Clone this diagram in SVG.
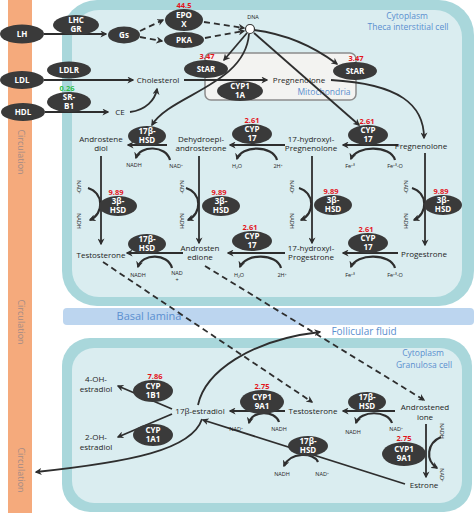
<svg xmlns="http://www.w3.org/2000/svg" width="474" height="513" viewBox="0 0 474 513">
<defs>
<marker id="ah" viewBox="0 0 10 10" refX="8" refY="5" markerWidth="7" markerHeight="7" markerUnits="userSpaceOnUse" orient="auto"><path d="M0,0 L10,5 L0,10 L3,5 z" fill="#2e2e2e"/></marker>
<style>
.e{fill:#3a3a3a}
.n{fill:#fff;font-family:"Open Sans",sans-serif;font-weight:bold;font-size:8px;text-anchor:middle}
.m{fill:#1e1e1e;font-family:"Open Sans",sans-serif;font-size:8px;text-anchor:middle}
.r{fill:#e3141c;font-family:"Open Sans",sans-serif;font-weight:bold;font-size:7.5px;text-anchor:middle}
.g{fill:#2ec04a;font-family:"Open Sans",sans-serif;font-weight:bold;font-size:7.5px;text-anchor:middle}
.c{fill:#1e1e1e;font-family:"Open Sans",sans-serif;font-size:5.5px;text-anchor:middle}
.b{fill:#5b8fcf;font-family:"Open Sans",sans-serif;text-anchor:middle}
.circ{fill:#a38a86;font-family:"Open Sans",sans-serif;font-size:9px;text-anchor:middle}
.l{fill:none;stroke:#2e2e2e;stroke-width:1.8;marker-end:url(#ah)}
.d{fill:none;stroke:#2e2e2e;stroke-width:1.8;stroke-dasharray:6,4;marker-end:url(#ah)}
.a{fill:none;stroke:#2e2e2e;stroke-width:2.2;marker-end:url(#ah)}
</style>
</defs>
<rect width="474" height="513" fill="#fff"/>
<g id="background">
<rect x="8" y="0" width="24" height="513" fill="#f5aa7c"/>
<text class="circ" transform="translate(18,152) rotate(90)">Circulation</text>
<text class="circ" transform="translate(18,322) rotate(90)">Circulation</text>
<text class="circ" transform="translate(18,470) rotate(90)">Circulation</text>
<rect x="62" y="0" width="412" height="306" rx="35" fill="#a9d7db"/>
<rect x="72" y="10" width="390" height="287" rx="27" fill="#daedf0"/>
<rect x="63" y="308" width="411" height="17" rx="4" fill="#bcd5ef"/>
<text class="b" x="149" y="320" font-size="11">Basal lamina</text>
<text class="b" x="364" y="335" font-size="10">Follicular fluid</text>
<rect x="62" y="338" width="410" height="174" rx="28" fill="#a9d7db"/>
<rect x="72" y="348" width="390" height="155" rx="22" fill="#daedf0"/>
<rect x="205" y="53" width="151" height="47" rx="6" fill="#f3f3f1" stroke="#8c8c8c" stroke-width="1.5"/>
<text class="b" x="324" y="95" font-size="8.5">Mitochondria</text>
<text class="b" x="407" y="19" font-size="8.5">Cytoplasm</text>
<text class="b" x="408" y="30" font-size="8.5">Theca interstitial cell</text>
<text class="b" x="423" y="356" font-size="8.5">Cytoplasm</text>
<text class="b" x="424" y="368" font-size="8.5">Granulosa cell</text>
</g>
<g id="connectors">
<path class="l" d="M44,34 L106,34"/>
<path class="l" d="M44,80 L133,80"/>
<path class="l" d="M45,112 L108,112"/>
<path class="l" d="M130,112 C146,110 155,100 157,89"/>
<path class="d" d="M140,31 L163,20"/>
<path class="d" d="M140,37 L162,41"/>
<path class="d" d="M204,22 L244,28"/>
<path class="d" d="M205,38 L244,31"/>
<path class="l" d="M247,33 L224,60"/>
<path class="l" d="M254,30 Q300,36 337,64"/>
<path class="l" d="M254,33 L359,125"/>
<path class="l" d="M249,34 C245,85 170,95 152,125"/>
<path class="l" d="M184,80 L267,80"/>
<path class="l" d="M331,80 C400,84 424,105 424,138"/>
<path class="l" d="M167,145 L128,145"/>
<path class="l" d="M285,145 L230,145"/>
<path class="l" d="M398,145 L343,145"/>
<path class="l" d="M183,253 L127,253"/>
<path class="l" d="M285,253 L228,253"/>
<path class="l" d="M398,253 L343,253"/>
<path class="l" d="M101,156 L101,244"/>
<path class="l" d="M199,156 L199,243"/>
<path class="l" d="M312,156 L312,243"/>
<path class="l" d="M425,153 L425,245"/>
<path class="a" d="M170,160 C166,145 140,145 136,158"/>
<path class="a" d="M277,160 C273,145 241,145 237,159"/>
<path class="a" d="M395,160 C391,145 356,145 351,159"/>
<path class="a" d="M172,268 C168,253 142,253 138,267"/>
<path class="a" d="M281,268 C277,253 245,253 240,267"/>
<path class="a" d="M395,268 C391,253 356,253 351,267"/>
<path class="a" d="M88,188 C104,193 104,214 90,220"/>
<path class="a" d="M186,188 C202,193 202,214 188,220"/>
<path class="a" d="M299,188 C315,193 315,214 301,220"/>
<path class="a" d="M412,188 C428,193 428,214 414,220"/>
<path class="d" d="M103,262 L312,402"/>
<path class="d" d="M205,266 L424,400"/>
<path class="l" d="M198,405 C205,372 250,340 320,332"/>
<path class="l" d="M202,419 C192,450 130,462 36,472"/>
<path class="l" d="M172,409 L118,386"/>
<path class="l" d="M172,414 L118,437"/>
<path class="l" d="M285,411 L230,411"/>
<path class="a" d="M279,422 C275,410 252,410 249,423"/>
<path class="l" d="M395,411 L343,411"/>
<path class="a" d="M392,423 C388,410 360,410 356,423"/>
<path class="l" d="M426,424 L426,477"/>
<path class="a" d="M441,437 C427,443 425,460 437,468"/>
<path class="l" d="M405,484 L203,420"/>
<path class="a" d="M318,462 C314,452 290,452 284,466"/>
</g>
<g id="LH"><ellipse class="e" cx="22" cy="34" rx="22" ry="9.5"/><text class="n" x="22" y="37">LH</text></g>
<g id="LHCGR"><ellipse class="e" cx="76" cy="25" rx="23" ry="10"/><text class="n" x="76" y="22.5">LHC</text><text class="n" x="76" y="31.5">GR</text></g>
<g id="Gs"><ellipse class="e" cx="124" cy="35" rx="16" ry="8.5"/><text class="n" x="124" y="38">Gs</text></g>
<g id="LDL"><ellipse class="e" cx="22" cy="80" rx="22" ry="9"/><text class="n" x="22" y="83">LDL</text></g>
<g id="LDLR"><ellipse class="e" cx="69" cy="70" rx="22" ry="8.5"/><text class="n" x="69" y="73">LDLR</text></g>
<g id="HDL"><ellipse class="e" cx="23" cy="112" rx="22" ry="9"/><text class="n" x="23" y="115">HDL</text></g>
<g id="SRB1"><ellipse class="e" cx="69" cy="102" rx="22" ry="10"/><text class="n" x="69" y="99.5">SR-</text><text class="n" x="69" y="108.5">B1</text><text class="g" x="67" y="91">0.26</text></g>
<g id="EPOX"><ellipse class="e" cx="184" cy="20" rx="19" ry="11"/><text class="n" x="184" y="17.5">EPO</text><text class="n" x="184" y="26.5">X</text><text class="r" x="184" y="8">44.5</text></g>
<g id="PKA"><ellipse class="e" cx="184" cy="40" rx="20" ry="8"/><text class="n" x="184" y="43">PKA</text></g>
<g id="DNA"><circle cx="250" cy="29" r="4.5" fill="#fff" stroke="#333" stroke-width="1.2"/><text class="c" x="253" y="19" font-size="6">DNA</text></g>
<g id="StAR1"><ellipse class="e" cx="206" cy="69" rx="22" ry="9"/><text class="n" x="206" y="72">StAR</text><text class="r" x="207" y="59">3.47</text></g>
<g id="CYP11A"><ellipse class="e" cx="240" cy="91" rx="23" ry="10"/><text class="n" x="240" y="88.5">CYP1</text><text class="n" x="240" y="97.5">1A</text></g>
<g id="StAR2"><ellipse class="e" cx="355" cy="71" rx="22" ry="9"/><text class="n" x="355" y="74">StAR</text><text class="r" x="356" y="61">3.47</text></g>
<g id="HSD17a"><ellipse class="e" cx="147" cy="136" rx="19" ry="10"/><text class="n" x="147" y="133.5">17β-</text><text class="n" x="147" y="142.5">HSD</text></g>
<g id="CYP17a"><ellipse class="e" cx="252" cy="134" rx="20" ry="10"/><text class="n" x="252" y="131.5">CYP</text><text class="n" x="252" y="140.5">17</text><text class="r" x="252" y="123">2.61</text></g>
<g id="CYP17b"><ellipse class="e" cx="368" cy="135" rx="20" ry="10"/><text class="n" x="368" y="132.5">CYP</text><text class="n" x="368" y="141.5">17</text><text class="r" x="367" y="124">2.61</text></g>
<g id="HSD3a"><ellipse class="e" cx="118" cy="206" rx="19" ry="10"/><text class="n" x="118" y="203.5">3β-</text><text class="n" x="118" y="212.5">HSD</text><text class="r" x="116" y="195">9.89</text></g>
<g id="HSD3b"><ellipse class="e" cx="221" cy="206" rx="19" ry="10"/><text class="n" x="221" y="203.5">3β-</text><text class="n" x="221" y="212.5">HSD</text><text class="r" x="219" y="195">9.89</text></g>
<g id="HSD3c"><ellipse class="e" cx="333" cy="205" rx="19" ry="10"/><text class="n" x="333" y="202.5">3β-</text><text class="n" x="333" y="211.5">HSD</text><text class="r" x="331" y="194">9.89</text></g>
<g id="HSD3d"><ellipse class="e" cx="443" cy="205" rx="19" ry="10"/><text class="n" x="443" y="202.5">3β-</text><text class="n" x="443" y="211.5">HSD</text><text class="r" x="441" y="194">9.89</text></g>
<g id="HSD17b"><ellipse class="e" cx="147" cy="244" rx="19" ry="10"/><text class="n" x="147" y="241.5">17β-</text><text class="n" x="147" y="250.5">HSD</text></g>
<g id="CYP17c"><ellipse class="e" cx="252" cy="241" rx="20" ry="10"/><text class="n" x="252" y="238.5">CYP</text><text class="n" x="252" y="247.5">17</text><text class="r" x="250" y="230">2.61</text></g>
<g id="CYP17d"><ellipse class="e" cx="368" cy="243" rx="20" ry="10"/><text class="n" x="368" y="240.5">CYP</text><text class="n" x="368" y="249.5">17</text><text class="r" x="366" y="232">2.61</text></g>
<g id="labels-top">
<text class="m" x="158" y="83">Cholesterol</text>
<text class="m" x="120" y="115">CE</text>
<text class="m" x="299" y="83">Pregnenolone</text>
<text class="m" x="101" y="142">Androstene</text><text class="m" x="101" y="151">diol</text>
<text class="m" x="201" y="142">Dehydroepi-</text><text class="m" x="201" y="151">androsterone</text>
<text class="m" x="311" y="142">17-hydroxyl-</text><text class="m" x="311" y="151">Pregnenolone</text>
<text class="m" x="421" y="149">Pregnenolone</text>
<text class="m" x="101" y="258">Testosterone</text>
<text class="m" x="200" y="251">Androsten</text><text class="m" x="200" y="260">edione</text>
<text class="m" x="311" y="251">17-hydroxyl-</text><text class="m" x="311" y="260">Progestrone</text>
<text class="m" x="424" y="257">Progestrone</text>
<text class="c" x="134" y="167">NADH</text><text class="c" x="176" y="168">NAD⁺</text>
<text class="c" x="237" y="168">H₂O</text><text class="c" x="278" y="168">2H⁺</text>
<text class="c" x="350" y="168">Fe⁺³</text><text class="c" x="395" y="168">Fe⁺³-O</text>
<text class="c" x="138" y="277">NADH</text><text class="c" x="177" y="275">NAD</text><text class="c" x="177" y="282">+</text>
<text class="c" x="239" y="277">H₂O</text><text class="c" x="282" y="277">2H⁺</text>
<text class="c" x="350" y="277">Fe⁺³</text><text class="c" x="395" y="277">Fe⁺³-O</text>
<text class="c" transform="translate(77,187) rotate(90)">NAD⁺</text><text class="c" transform="translate(77,221) rotate(90)">NADH</text>
<text class="c" transform="translate(180,187) rotate(90)">NAD⁺</text><text class="c" transform="translate(180,221) rotate(90)">NADH</text>
<text class="c" transform="translate(290,187) rotate(90)">NAD⁺</text><text class="c" transform="translate(290,221) rotate(90)">NADH</text>
<text class="c" transform="translate(404,187) rotate(90)">NAD⁺</text><text class="c" transform="translate(404,221) rotate(90)">NADH</text>
</g>
<g id="CYP1B1"><ellipse class="e" cx="153" cy="391" rx="20" ry="11"/><text class="n" x="153" y="388.5">CYP</text><text class="n" x="153" y="397.5">1B1</text><text class="r" x="155" y="379">7.86</text></g>
<g id="CYP1A1"><ellipse class="e" cx="153" cy="435" rx="20" ry="11"/><text class="n" x="153" y="432.5">CYP</text><text class="n" x="153" y="441.5">1A1</text></g>
<g id="CYP19A1a"><ellipse class="e" cx="262" cy="402" rx="22" ry="12"/><text class="n" x="262" y="399.5">CYP1</text><text class="n" x="262" y="408.5">9A1</text><text class="r" x="262" y="389">2.75</text></g>
<g id="HSD17c"><ellipse class="e" cx="367" cy="402" rx="19" ry="10"/><text class="n" x="367" y="399.5">17β-</text><text class="n" x="367" y="408.5">HSD</text></g>
<g id="CYP19A1b"><ellipse class="e" cx="404" cy="454" rx="22" ry="12"/><text class="n" x="404" y="451.5">CYP1</text><text class="n" x="404" y="460.5">9A1</text><text class="r" x="404" y="441">2.75</text></g>
<g id="HSD17d"><ellipse class="e" cx="308" cy="446" rx="20" ry="10"/><text class="n" x="308" y="443.5">17β-</text><text class="n" x="308" y="452.5">HSD</text></g>
<g id="labels-bottom">
<text class="m" x="96" y="382">4-OH-</text><text class="m" x="96" y="392">estradiol</text>
<text class="m" x="96" y="440">2-OH-</text><text class="m" x="96" y="450">estradiol</text>
<text class="m" x="200" y="414">17β-estradiol</text>
<text class="m" x="313" y="414">Testosterone</text>
<text class="m" x="425" y="410">Androstened</text><text class="m" x="425" y="420">ione</text>
<text class="m" x="424" y="488">Estrone</text>
<text class="c" x="236" y="431">NAD⁺</text><text class="c" x="279" y="431">NADH</text>
<text class="c" x="353" y="434">NADH</text><text class="c" x="396" y="431">NAD⁺</text>
<text class="c" x="282" y="476">NADH</text><text class="c" x="322" y="476">NAD⁺</text>
<text class="c" transform="translate(440,431) rotate(90)">NADH</text>
<text class="c" transform="translate(440,475) rotate(90)">NAD⁺</text>
</g>
</svg>
